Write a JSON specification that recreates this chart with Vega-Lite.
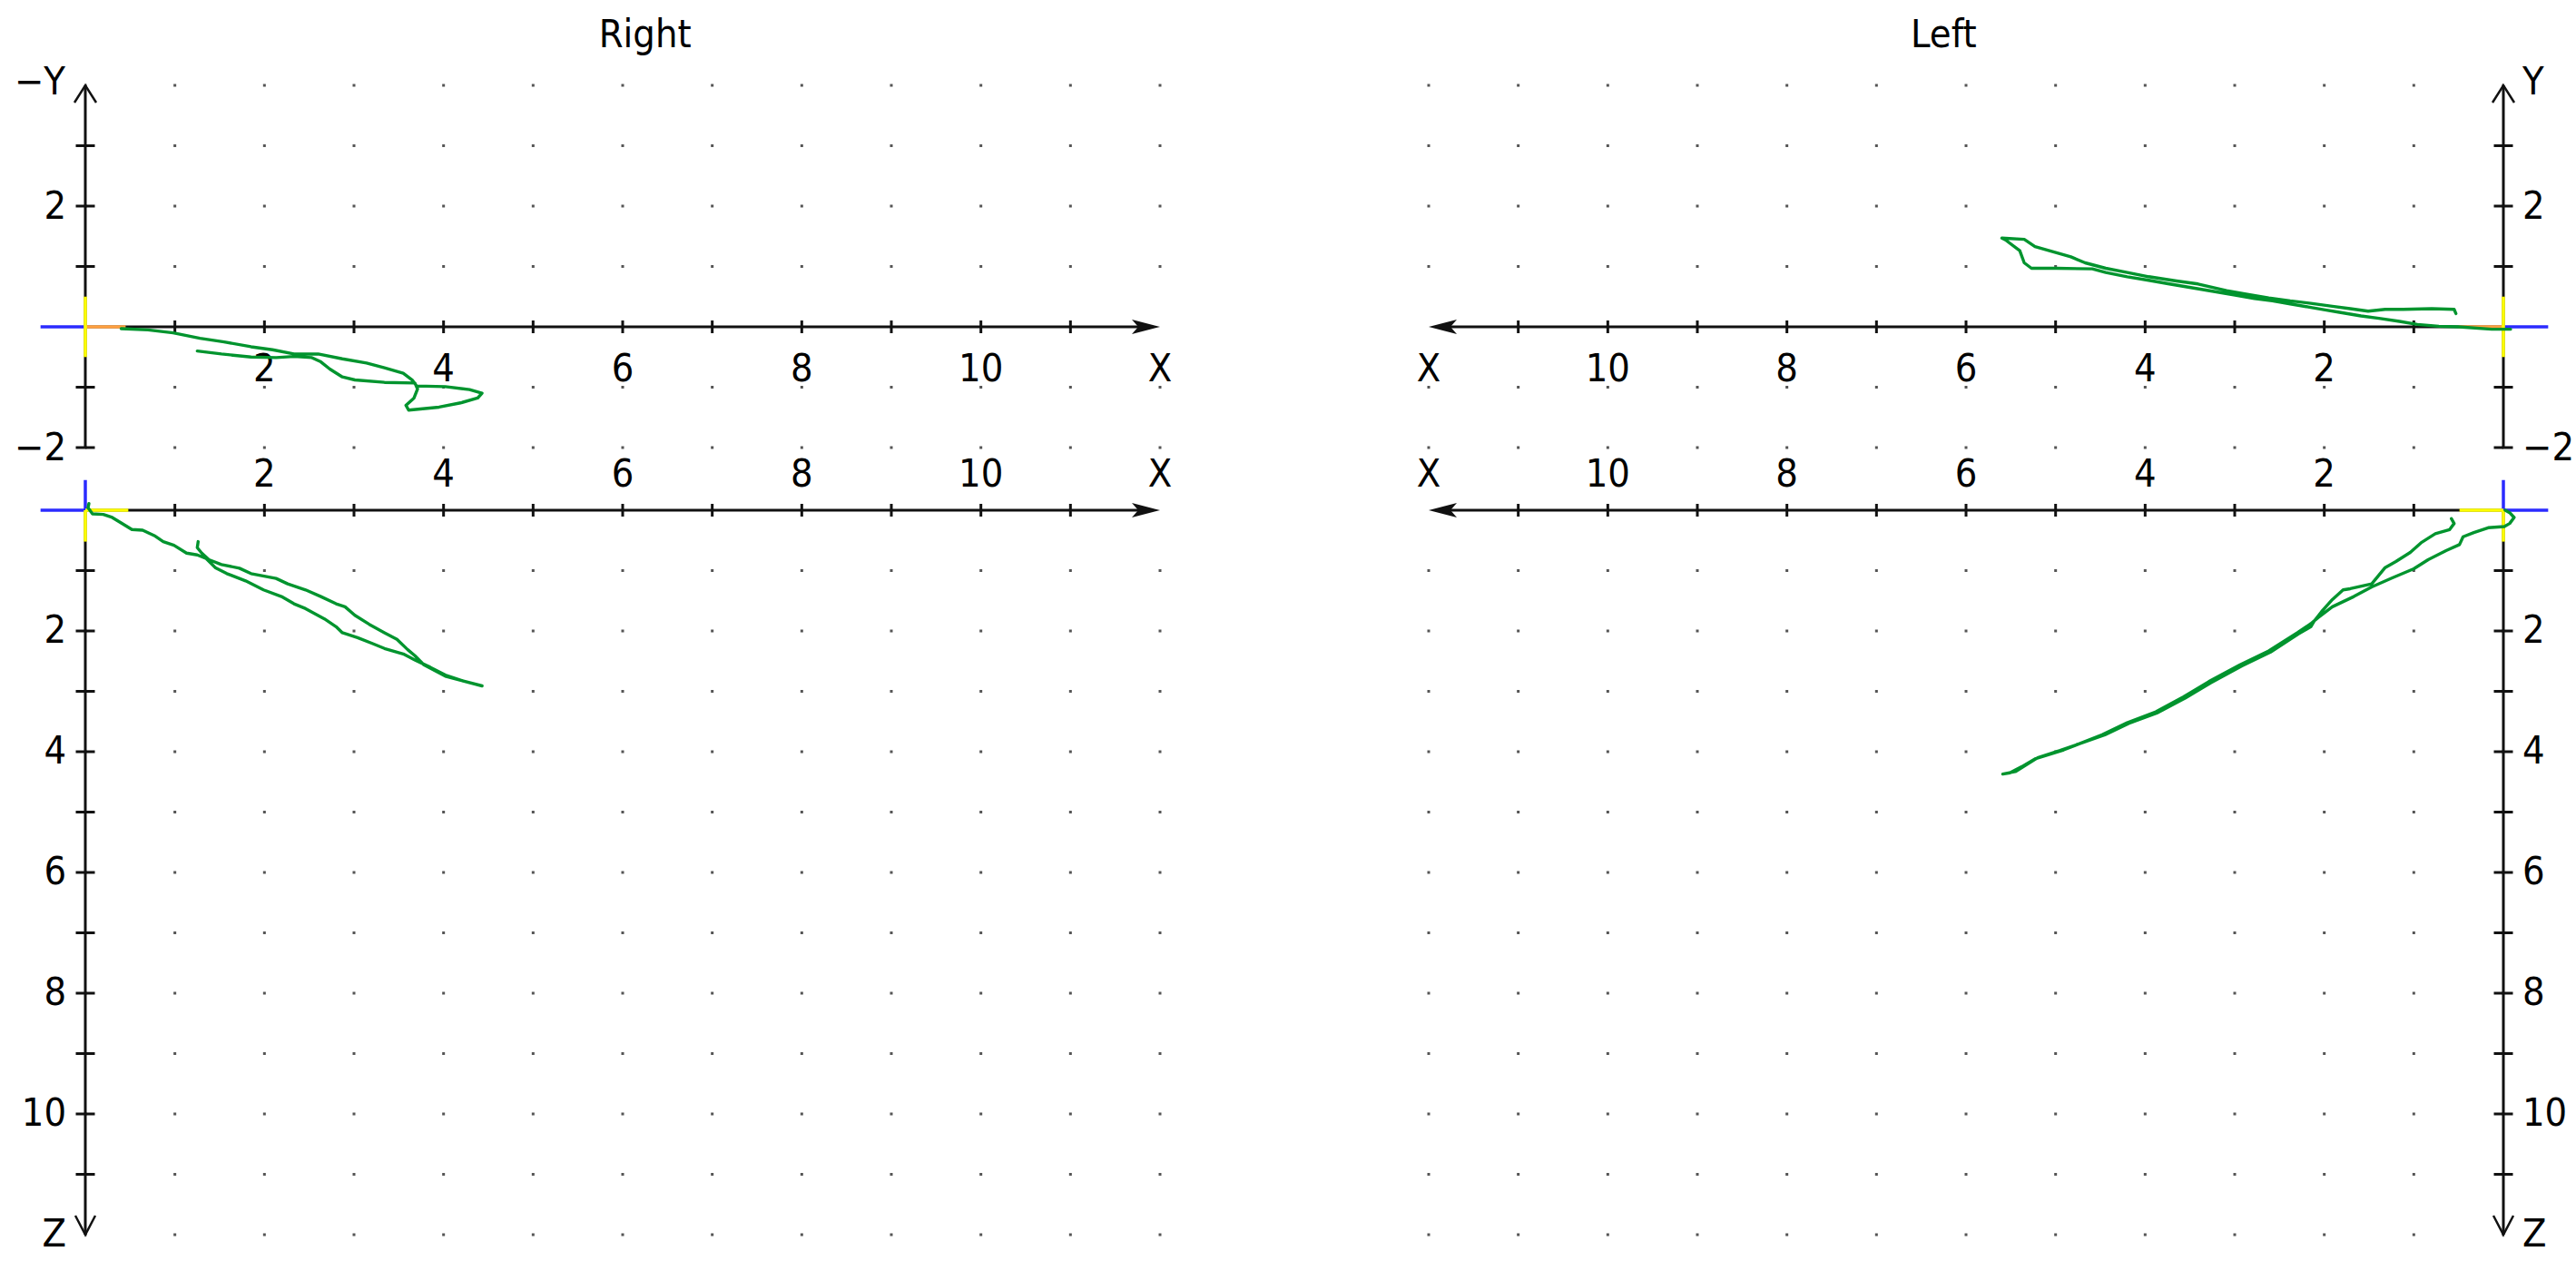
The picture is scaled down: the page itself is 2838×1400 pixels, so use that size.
{
  "$schema": "https://vega.github.io/schema/vega-lite/v6.json",
  "width": 2838,
  "height": 1400,
  "autosize": {"type": "none"},
  "padding": 0,
  "background": "white",
  "config": {
    "view": {"stroke": null},
    "axis": {"disable": true, "grid": false, "domain": false, "ticks": false, "labels": false, "title": null},
    "text": {"font": "'DejaVu Sans Condensed', 'DejaVu Sans', sans-serif", "fontSize": 43, "color": "#000"},
    "point": {"opacity": 1}
  },
  "datasets": {
    "t11": [{"v":1},{"v":2},{"v":3},{"v":4},{"v":5},{"v":6},{"v":7},{"v":8},{"v":9},{"v":10},{"v":11}],
    "yt": [{"v":-2},{"v":-1},{"v":1},{"v":2},{"v":3}],
    "ydots": [{"v":-2},{"v":-1},{"v":1},{"v":2},{"v":3},{"v":4}],
    "zdots": [{"v":1},{"v":2},{"v":3},{"v":4},{"v":5},{"v":6},{"v":7},{"v":8},{"v":9},{"v":10},{"v":11},{"v":12}],
    "xlab": [{"v":2,"t":"2"},{"v":4,"t":"4"},{"v":6,"t":"6"},{"v":8,"t":"8"},{"v":10,"t":"10"},{"v":12,"t":"X"}],
    "ylab": [{"v":2,"t":"2"},{"v":-2,"t":"−2"}],
    "zlab": [{"v":2,"t":"2"},{"v":4,"t":"4"},{"v":6,"t":"6"},{"v":8,"t":"8"},{"v":10,"t":"10"},{"v":12,"t":"Z"}],
    "one": [{}],
    "rt": [{"x":0.40,"y":-0.03},{"x":0.70,"y":-0.05},{"x":0.98,"y":-0.10},{"x":1.28,"y":-0.19},{"x":1.55,"y":-0.25},{"x":1.85,"y":-0.33},{"x":2.09,"y":-0.38},{"x":2.33,"y":-0.45},{"x":2.60,"y":-0.45},{"x":2.87,"y":-0.53},{"x":3.14,"y":-0.60},{"x":3.34,"y":-0.68},{"x":3.55,"y":-0.77},{"x":3.65,"y":-0.88},{"x":3.70,"y":-0.98},{"x":4.02,"y":-0.99},{"x":4.29,"y":-1.04},{"x":4.43,"y":-1.10},{"x":4.38,"y":-1.18},{"x":4.19,"y":-1.26},{"x":3.95,"y":-1.33},{"x":3.61,"y":-1.38},{"x":3.58,"y":-1.30},{"x":3.67,"y":-1.18},{"x":3.71,"y":-1.03},{"x":3.68,"y":-0.93},{"x":3.34,"y":-0.92},{"x":3.01,"y":-0.88},{"x":2.87,"y":-0.83},{"x":2.73,"y":-0.70},{"x":2.63,"y":-0.58},{"x":2.53,"y":-0.51},{"x":2.33,"y":-0.49},{"x":2.13,"y":-0.51},{"x":1.85,"y":-0.50},{"x":1.52,"y":-0.45},{"x":1.25,"y":-0.40}],
    "rb": [{"x":0.04,"z":-0.11},{"x":0.03,"z":-0.04},{"x":0.08,"z":0.06},{"x":0.20,"z":0.07},{"x":0.30,"z":0.12},{"x":0.40,"z":0.21},{"x":0.52,"z":0.32},{"x":0.64,"z":0.33},{"x":0.77,"z":0.42},{"x":0.87,"z":0.52},{"x":0.99,"z":0.58},{"x":1.13,"z":0.71},{"x":1.25,"z":0.74},{"x":1.35,"z":0.80},{"x":1.45,"z":0.95},{"x":1.58,"z":1.05},{"x":1.79,"z":1.17},{"x":1.99,"z":1.32},{"x":2.19,"z":1.43},{"x":2.33,"z":1.55},{"x":2.46,"z":1.63},{"x":2.67,"z":1.80},{"x":2.80,"z":1.93},{"x":2.87,"z":2.03},{"x":3.04,"z":2.11},{"x":3.21,"z":2.21},{"x":3.34,"z":2.29},{"x":3.55,"z":2.38},{"x":3.68,"z":2.48},{"x":3.85,"z":2.60},{"x":4.02,"z":2.73},{"x":4.22,"z":2.83},{"x":4.43,"z":2.91},{"x":4.02,"z":2.75},{"x":3.78,"z":2.56},{"x":3.68,"z":2.41},{"x":3.60,"z":2.31},{"x":3.48,"z":2.14},{"x":3.34,"z":2.03},{"x":3.17,"z":1.89},{"x":3.01,"z":1.74},{"x":2.90,"z":1.60},{"x":2.80,"z":1.55},{"x":2.63,"z":1.43},{"x":2.46,"z":1.32},{"x":2.26,"z":1.22},{"x":2.13,"z":1.13},{"x":1.85,"z":1.05},{"x":1.72,"z":0.96},{"x":1.52,"z":0.90},{"x":1.38,"z":0.82},{"x":1.30,"z":0.71},{"x":1.25,"z":0.62},{"x":1.26,"z":0.52}],
    "lt": [{"x":-0.08,"y":-0.04},{"x":0.13,"y":-0.04},{"x":0.50,"y":0.0},{"x":0.72,"y":0.01},{"x":0.96,"y":0.04},{"x":1.16,"y":0.09},{"x":1.39,"y":0.14},{"x":1.59,"y":0.18},{"x":1.83,"y":0.24},{"x":1.99,"y":0.28},{"x":2.18,"y":0.33},{"x":2.38,"y":0.38},{"x":2.58,"y":0.43},{"x":2.78,"y":0.47},{"x":3.01,"y":0.53},{"x":3.25,"y":0.59},{"x":3.49,"y":0.65},{"x":3.73,"y":0.71},{"x":3.96,"y":0.77},{"x":4.20,"y":0.83},{"x":4.44,"y":0.90},{"x":4.59,"y":0.96},{"x":4.99,"y":0.97},{"x":5.27,"y":0.97},{"x":5.35,"y":1.06},{"x":5.40,"y":1.26},{"x":5.56,"y":1.44},{"x":5.60,"y":1.47},{"x":5.35,"y":1.45},{"x":5.23,"y":1.33},{"x":5.07,"y":1.26},{"x":4.83,"y":1.16},{"x":4.67,"y":1.06},{"x":4.44,"y":0.97},{"x":4.20,"y":0.90},{"x":3.96,"y":0.83},{"x":3.65,"y":0.76},{"x":3.41,"y":0.71},{"x":3.09,"y":0.60},{"x":2.86,"y":0.54},{"x":2.62,"y":0.48},{"x":2.38,"y":0.43},{"x":2.15,"y":0.39},{"x":1.91,"y":0.34},{"x":1.71,"y":0.30},{"x":1.51,"y":0.26},{"x":1.32,"y":0.29},{"x":1.12,"y":0.29},{"x":0.80,"y":0.30},{"x":0.55,"y":0.29},{"x":0.53,"y":0.22}],
    "lb": [{"x":-0.02,"z":0.0},{"x":-0.07,"z":0.04},{"x":-0.12,"z":0.12},{"x":-0.07,"z":0.22},{"x":-0.01,"z":0.27},{"x":0.17,"z":0.29},{"x":0.33,"z":0.37},{"x":0.45,"z":0.44},{"x":0.49,"z":0.57},{"x":0.64,"z":0.67},{"x":0.84,"z":0.82},{"x":1.00,"z":0.97},{"x":1.24,"z":1.12},{"x":1.47,"z":1.27},{"x":1.67,"z":1.43},{"x":1.91,"z":1.60},{"x":2.07,"z":1.78},{"x":2.15,"z":1.88},{"x":2.30,"z":2.03},{"x":2.62,"z":2.33},{"x":2.94,"z":2.56},{"x":3.29,"z":2.84},{"x":3.57,"z":3.09},{"x":3.88,"z":3.34},{"x":4.20,"z":3.52},{"x":4.48,"z":3.72},{"x":4.91,"z":3.97},{"x":5.23,"z":4.12},{"x":5.38,"z":4.25},{"x":5.51,"z":4.35},{"x":5.59,"z":4.37},{"x":5.45,"z":4.33},{"x":5.20,"z":4.10},{"x":4.95,"z":3.98},{"x":4.45,"z":3.72},{"x":4.18,"z":3.53},{"x":3.87,"z":3.36},{"x":3.55,"z":3.11},{"x":3.27,"z":2.86},{"x":2.92,"z":2.58},{"x":2.60,"z":2.35},{"x":2.29,"z":2.05},{"x":2.15,"z":1.93},{"x":2.11,"z":1.83},{"x":2.03,"z":1.68},{"x":1.91,"z":1.48},{"x":1.79,"z":1.32},{"x":1.71,"z":1.30},{"x":1.47,"z":1.22},{"x":1.32,"z":0.95},{"x":1.20,"z":0.85},{"x":1.04,"z":0.70},{"x":0.92,"z":0.54},{"x":0.76,"z":0.39},{"x":0.60,"z":0.32},{"x":0.55,"z":0.22},{"x":0.58,"z":0.14}]
  },
  "resolve": {"scale": {"x": "independent", "y": "independent"}},
  "layer": [
    {
      "layer": [
        {"data": {"name": "ydots"}, "mark": {"type": "rule", "color": "#555", "strokeWidth": 3, "strokeDash": [3, 95.667], "strokeDashOffset": 1.5},
         "encoding": {"y": {"field": "v", "type": "quantitative", "axis": null, "scale": {"domain": [-2, 4], "range": [493, 94], "nice": false, "zero": false}}, "x": {"datum": 0, "type": "quantitative", "axis": null, "scale": {"domain": [0, 12], "range": [94, 1278], "nice": false, "zero": false}}, "x2": {"datum": 12.1}}},
        {"data": {"name": "one"}, "mark": {"type": "rule", "color": "#111", "strokeWidth": 3},
         "encoding": {"x": {"datum": 0, "type": "quantitative", "axis": null, "scale": {"domain": [0, 12], "range": [94, 1278], "nice": false, "zero": false}}, "x2": {"datum": 11.8}, "y": {"datum": 0, "type": "quantitative", "axis": null, "scale": {"domain": [-2, 4], "range": [493, 94], "nice": false, "zero": false}}}},
        {"data": {"name": "one"}, "mark": {"type": "rule", "color": "#111", "strokeWidth": 3},
         "encoding": {"x": {"datum": 0, "type": "quantitative", "axis": null, "scale": {"domain": [0, 12], "range": [94, 1278], "nice": false, "zero": false}}, "y": {"datum": -2, "type": "quantitative", "axis": null, "scale": {"domain": [-2, 4], "range": [493, 94], "nice": false, "zero": false}}, "y2": {"datum": 4}}},
        {"data": {"name": "one"}, "mark": {"type": "rule", "color": "#2B2BFF", "strokeWidth": 3.5},
         "encoding": {"x": {"datum": -0.5, "type": "quantitative", "axis": null, "scale": {"domain": [0, 12], "range": [94, 1278], "nice": false, "zero": false}}, "x2": {"datum": 0}, "y": {"datum": 0, "type": "quantitative", "axis": null, "scale": {"domain": [-2, 4], "range": [493, 94], "nice": false, "zero": false}}}},
        {"data": {"name": "one"}, "mark": {"type": "rule", "color": "#FFA040", "strokeWidth": 3.5},
         "encoding": {"x": {"datum": 0, "type": "quantitative", "axis": null, "scale": {"domain": [0, 12], "range": [94, 1278], "nice": false, "zero": false}}, "x2": {"datum": 0.45}, "y": {"datum": 0, "type": "quantitative", "axis": null, "scale": {"domain": [-2, 4], "range": [493, 94], "nice": false, "zero": false}}}},
        {"data": {"name": "one"}, "mark": {"type": "rule", "color": "#FFFF00", "strokeWidth": 3.5},
         "encoding": {"x": {"datum": 0, "type": "quantitative", "axis": null, "scale": {"domain": [0, 12], "range": [94, 1278], "nice": false, "zero": false}}, "y": {"datum": -0.5, "type": "quantitative", "axis": null, "scale": {"domain": [-2, 4], "range": [493, 94], "nice": false, "zero": false}}, "y2": {"datum": 0.5}}},
        {"data": {"name": "t11"}, "mark": {"type": "point", "shape": "M0,-1L0,1", "size": 196, "filled": false, "color": "#111", "strokeWidth": 3, "opacity": 1},
         "encoding": {"x": {"field": "v", "type": "quantitative", "axis": null, "scale": {"domain": [0, 12], "range": [94, 1278], "nice": false, "zero": false}}, "y": {"datum": 0, "type": "quantitative", "axis": null, "scale": {"domain": [-2, 4], "range": [493, 94], "nice": false, "zero": false}}}},
        {"data": {"name": "yt"}, "mark": {"type": "point", "shape": "M-1,0L1,0", "size": 441, "filled": false, "color": "#111", "strokeWidth": 3, "opacity": 1},
         "encoding": {"y": {"field": "v", "type": "quantitative", "axis": null, "scale": {"domain": [-2, 4], "range": [493, 94], "nice": false, "zero": false}}, "x": {"datum": 0, "type": "quantitative", "axis": null, "scale": {"domain": [0, 12], "range": [94, 1278], "nice": false, "zero": false}}}},
        {"data": {"name": "one"}, "mark": {"type": "point", "shape": "M0,0L-3.1,-0.8L-2.4,0L-3.1,0.8Z", "size": 400, "filled": true, "color": "#111", "opacity": 1},
         "encoding": {"x": {"datum": 12, "type": "quantitative", "axis": null, "scale": {"domain": [0, 12], "range": [94, 1278], "nice": false, "zero": false}}, "y": {"datum": 0, "type": "quantitative", "axis": null, "scale": {"domain": [-2, 4], "range": [493, 94], "nice": false, "zero": false}}}},
        {"data": {"name": "one"}, "mark": {"type": "point", "shape": "M-1.2,1.9L0,0L1.2,1.9", "size": 400, "filled": false, "color": "#111", "strokeWidth": 2.5, "opacity": 1},
         "encoding": {"x": {"datum": 0, "type": "quantitative", "axis": null, "scale": {"domain": [0, 12], "range": [94, 1278], "nice": false, "zero": false}}, "y": {"datum": 4, "type": "quantitative", "axis": null, "scale": {"domain": [-2, 4], "range": [493, 94], "nice": false, "zero": false}}}},
        {"data": {"name": "xlab"}, "mark": {"type": "text", "align": "center", "baseline": "alphabetic", "dy": 60},
         "encoding": {"x": {"field": "v", "type": "quantitative", "axis": null, "scale": {"domain": [0, 12], "range": [94, 1278], "nice": false, "zero": false}}, "y": {"datum": 0, "type": "quantitative", "axis": null, "scale": {"domain": [-2, 4], "range": [493, 94], "nice": false, "zero": false}}, "text": {"field": "t"}}},
        {"data": {"name": "ylab"}, "mark": {"type": "text", "align": "right", "baseline": "alphabetic", "dx": -21, "dy": 14},
         "encoding": {"y": {"field": "v", "type": "quantitative", "axis": null, "scale": {"domain": [-2, 4], "range": [493, 94], "nice": false, "zero": false}}, "x": {"datum": 0, "type": "quantitative", "axis": null, "scale": {"domain": [0, 12], "range": [94, 1278], "nice": false, "zero": false}}, "text": {"field": "t"}}},
        {"data": {"name": "one"}, "mark": {"type": "text", "align": "right", "baseline": "alphabetic", "dx": -22, "dy": 10, "text": "−Y"},
         "encoding": {"x": {"datum": 0, "type": "quantitative", "axis": null, "scale": {"domain": [0, 12], "range": [94, 1278], "nice": false, "zero": false}}, "y": {"datum": 4, "type": "quantitative", "axis": null, "scale": {"domain": [-2, 4], "range": [493, 94], "nice": false, "zero": false}}}},
        {"data": {"name": "one"}, "mark": {"type": "text", "align": "center", "baseline": "alphabetic", "text": "Right"},
         "encoding": {"x": {"datum": 6.25, "type": "quantitative", "axis": null, "scale": {"domain": [0, 12], "range": [94, 1278], "nice": false, "zero": false}}, "y": {"datum": 4.63, "type": "quantitative", "axis": null, "scale": {"domain": [-2, 4], "range": [493, 94], "nice": false, "zero": false}}}},
        {"data": {"name": "rt"}, "mark": {"type": "line", "color": "#00942E", "strokeWidth": 3.4, "strokeJoin": "round", "strokeCap": "round"},
         "encoding": {"x": {"field": "x", "type": "quantitative", "axis": null, "scale": {"domain": [0, 12], "range": [94, 1278], "nice": false, "zero": false}}, "y": {"field": "y", "type": "quantitative", "axis": null, "scale": {"domain": [-2, 4], "range": [493, 94], "nice": false, "zero": false}}, "order": {"value": null}}}
      ]
    },
    {
      "layer": [
        {"data": {"name": "zdots"}, "mark": {"type": "rule", "color": "#555", "strokeWidth": 3, "strokeDash": [3, 95.667], "strokeDashOffset": 1.5},
         "encoding": {"y": {"field": "v", "type": "quantitative", "axis": null, "scale": {"domain": [0, 12], "range": [562, 1360], "nice": false, "zero": false}}, "x": {"datum": 0, "type": "quantitative", "axis": null, "scale": {"domain": [0, 12], "range": [94, 1278], "nice": false, "zero": false}}, "x2": {"datum": 12.1}}},
        {"data": {"name": "one"}, "mark": {"type": "rule", "color": "#111", "strokeWidth": 3},
         "encoding": {"x": {"datum": 0, "type": "quantitative", "axis": null, "scale": {"domain": [0, 12], "range": [94, 1278], "nice": false, "zero": false}}, "x2": {"datum": 11.8}, "y": {"datum": 0, "type": "quantitative", "axis": null, "scale": {"domain": [0, 12], "range": [562, 1360], "nice": false, "zero": false}}}},
        {"data": {"name": "one"}, "mark": {"type": "rule", "color": "#111", "strokeWidth": 3},
         "encoding": {"x": {"datum": 0, "type": "quantitative", "axis": null, "scale": {"domain": [0, 12], "range": [94, 1278], "nice": false, "zero": false}}, "y": {"datum": 0, "type": "quantitative", "axis": null, "scale": {"domain": [0, 12], "range": [562, 1360], "nice": false, "zero": false}}, "y2": {"datum": 12}}},
        {"data": {"name": "one"}, "mark": {"type": "rule", "color": "#2B2BFF", "strokeWidth": 3.5},
         "encoding": {"x": {"datum": -0.5, "type": "quantitative", "axis": null, "scale": {"domain": [0, 12], "range": [94, 1278], "nice": false, "zero": false}}, "x2": {"datum": 0}, "y": {"datum": 0, "type": "quantitative", "axis": null, "scale": {"domain": [0, 12], "range": [562, 1360], "nice": false, "zero": false}}}},
        {"data": {"name": "one"}, "mark": {"type": "rule", "color": "#2B2BFF", "strokeWidth": 3.5},
         "encoding": {"x": {"datum": 0, "type": "quantitative", "axis": null, "scale": {"domain": [0, 12], "range": [94, 1278], "nice": false, "zero": false}}, "y": {"datum": -0.5, "type": "quantitative", "axis": null, "scale": {"domain": [0, 12], "range": [562, 1360], "nice": false, "zero": false}}, "y2": {"datum": 0}}},
        {"data": {"name": "one"}, "mark": {"type": "rule", "color": "#FFFF00", "strokeWidth": 3.5},
         "encoding": {"x": {"datum": 0, "type": "quantitative", "axis": null, "scale": {"domain": [0, 12], "range": [94, 1278], "nice": false, "zero": false}}, "x2": {"datum": 0.48}, "y": {"datum": 0, "type": "quantitative", "axis": null, "scale": {"domain": [0, 12], "range": [562, 1360], "nice": false, "zero": false}}}},
        {"data": {"name": "one"}, "mark": {"type": "rule", "color": "#FFFF00", "strokeWidth": 3.5},
         "encoding": {"x": {"datum": 0, "type": "quantitative", "axis": null, "scale": {"domain": [0, 12], "range": [94, 1278], "nice": false, "zero": false}}, "y": {"datum": 0, "type": "quantitative", "axis": null, "scale": {"domain": [0, 12], "range": [562, 1360], "nice": false, "zero": false}}, "y2": {"datum": 0.52}}},
        {"data": {"name": "t11"}, "mark": {"type": "point", "shape": "M0,-1L0,1", "size": 196, "filled": false, "color": "#111", "strokeWidth": 3, "opacity": 1},
         "encoding": {"x": {"field": "v", "type": "quantitative", "axis": null, "scale": {"domain": [0, 12], "range": [94, 1278], "nice": false, "zero": false}}, "y": {"datum": 0, "type": "quantitative", "axis": null, "scale": {"domain": [0, 12], "range": [562, 1360], "nice": false, "zero": false}}}},
        {"data": {"name": "t11"}, "mark": {"type": "point", "shape": "M-1,0L1,0", "size": 441, "filled": false, "color": "#111", "strokeWidth": 3, "opacity": 1},
         "encoding": {"y": {"field": "v", "type": "quantitative", "axis": null, "scale": {"domain": [0, 12], "range": [562, 1360], "nice": false, "zero": false}}, "x": {"datum": 0, "type": "quantitative", "axis": null, "scale": {"domain": [0, 12], "range": [94, 1278], "nice": false, "zero": false}}}},
        {"data": {"name": "one"}, "mark": {"type": "point", "shape": "M0,0L-3.1,-0.8L-2.4,0L-3.1,0.8Z", "size": 400, "filled": true, "color": "#111", "opacity": 1},
         "encoding": {"x": {"datum": 12, "type": "quantitative", "axis": null, "scale": {"domain": [0, 12], "range": [94, 1278], "nice": false, "zero": false}}, "y": {"datum": 0, "type": "quantitative", "axis": null, "scale": {"domain": [0, 12], "range": [562, 1360], "nice": false, "zero": false}}}},
        {"data": {"name": "one"}, "mark": {"type": "point", "shape": "M-1.1,-2.1L0,0L1.1,-2.1", "size": 400, "filled": false, "color": "#111", "strokeWidth": 2.5, "opacity": 1},
         "encoding": {"x": {"datum": 0, "type": "quantitative", "axis": null, "scale": {"domain": [0, 12], "range": [94, 1278], "nice": false, "zero": false}}, "y": {"datum": 12, "type": "quantitative", "axis": null, "scale": {"domain": [0, 12], "range": [562, 1360], "nice": false, "zero": false}}}},
        {"data": {"name": "xlab"}, "mark": {"type": "text", "align": "center", "baseline": "alphabetic", "dy": -26},
         "encoding": {"x": {"field": "v", "type": "quantitative", "axis": null, "scale": {"domain": [0, 12], "range": [94, 1278], "nice": false, "zero": false}}, "y": {"datum": 0, "type": "quantitative", "axis": null, "scale": {"domain": [0, 12], "range": [562, 1360], "nice": false, "zero": false}}, "text": {"field": "t"}}},
        {"data": {"name": "zlab"}, "mark": {"type": "text", "align": "right", "baseline": "alphabetic", "dx": -21, "dy": 13},
         "encoding": {"y": {"field": "v", "type": "quantitative", "axis": null, "scale": {"domain": [0, 12], "range": [562, 1360], "nice": false, "zero": false}}, "x": {"datum": 0, "type": "quantitative", "axis": null, "scale": {"domain": [0, 12], "range": [94, 1278], "nice": false, "zero": false}}, "text": {"field": "t"}}},
        {"data": {"name": "rb"}, "mark": {"type": "line", "color": "#00942E", "strokeWidth": 3.4, "strokeJoin": "round", "strokeCap": "round"},
         "encoding": {"x": {"field": "x", "type": "quantitative", "axis": null, "scale": {"domain": [0, 12], "range": [94, 1278], "nice": false, "zero": false}}, "y": {"field": "z", "type": "quantitative", "axis": null, "scale": {"domain": [0, 12], "range": [562, 1360], "nice": false, "zero": false}}, "order": {"value": null}}}
      ]
    },
    {
      "layer": [
        {"data": {"name": "ydots"}, "mark": {"type": "rule", "color": "#555", "strokeWidth": 3, "strokeDash": [3, 95.667], "strokeDashOffset": 1.5},
         "encoding": {"y": {"field": "v", "type": "quantitative", "axis": null, "scale": {"domain": [-2, 4], "range": [493, 94], "nice": false, "zero": false}}, "x": {"datum": 0, "type": "quantitative", "axis": null, "scale": {"domain": [0, 12], "range": [2758, 1574], "nice": false, "zero": false}}, "x2": {"datum": 12.1}}},
        {"data": {"name": "one"}, "mark": {"type": "rule", "color": "#111", "strokeWidth": 3},
         "encoding": {"x": {"datum": 0, "type": "quantitative", "axis": null, "scale": {"domain": [0, 12], "range": [2758, 1574], "nice": false, "zero": false}}, "x2": {"datum": 11.8}, "y": {"datum": 0, "type": "quantitative", "axis": null, "scale": {"domain": [-2, 4], "range": [493, 94], "nice": false, "zero": false}}}},
        {"data": {"name": "one"}, "mark": {"type": "rule", "color": "#111", "strokeWidth": 3},
         "encoding": {"x": {"datum": 0, "type": "quantitative", "axis": null, "scale": {"domain": [0, 12], "range": [2758, 1574], "nice": false, "zero": false}}, "y": {"datum": -2, "type": "quantitative", "axis": null, "scale": {"domain": [-2, 4], "range": [493, 94], "nice": false, "zero": false}}, "y2": {"datum": 4}}},
        {"data": {"name": "one"}, "mark": {"type": "rule", "color": "#2B2BFF", "strokeWidth": 3.5},
         "encoding": {"x": {"datum": -0.5, "type": "quantitative", "axis": null, "scale": {"domain": [0, 12], "range": [2758, 1574], "nice": false, "zero": false}}, "x2": {"datum": 0}, "y": {"datum": 0, "type": "quantitative", "axis": null, "scale": {"domain": [-2, 4], "range": [493, 94], "nice": false, "zero": false}}}},
        {"data": {"name": "one"}, "mark": {"type": "rule", "color": "#FFA040", "strokeWidth": 3.5},
         "encoding": {"x": {"datum": 0, "type": "quantitative", "axis": null, "scale": {"domain": [0, 12], "range": [2758, 1574], "nice": false, "zero": false}}, "x2": {"datum": 0.5}, "y": {"datum": 0, "type": "quantitative", "axis": null, "scale": {"domain": [-2, 4], "range": [493, 94], "nice": false, "zero": false}}}},
        {"data": {"name": "one"}, "mark": {"type": "rule", "color": "#FFFF00", "strokeWidth": 3.5},
         "encoding": {"x": {"datum": 0, "type": "quantitative", "axis": null, "scale": {"domain": [0, 12], "range": [2758, 1574], "nice": false, "zero": false}}, "y": {"datum": -0.5, "type": "quantitative", "axis": null, "scale": {"domain": [-2, 4], "range": [493, 94], "nice": false, "zero": false}}, "y2": {"datum": 0.5}}},
        {"data": {"name": "t11"}, "mark": {"type": "point", "shape": "M0,-1L0,1", "size": 196, "filled": false, "color": "#111", "strokeWidth": 3, "opacity": 1},
         "encoding": {"x": {"field": "v", "type": "quantitative", "axis": null, "scale": {"domain": [0, 12], "range": [2758, 1574], "nice": false, "zero": false}}, "y": {"datum": 0, "type": "quantitative", "axis": null, "scale": {"domain": [-2, 4], "range": [493, 94], "nice": false, "zero": false}}}},
        {"data": {"name": "yt"}, "mark": {"type": "point", "shape": "M-1,0L1,0", "size": 441, "filled": false, "color": "#111", "strokeWidth": 3, "opacity": 1},
         "encoding": {"y": {"field": "v", "type": "quantitative", "axis": null, "scale": {"domain": [-2, 4], "range": [493, 94], "nice": false, "zero": false}}, "x": {"datum": 0, "type": "quantitative", "axis": null, "scale": {"domain": [0, 12], "range": [2758, 1574], "nice": false, "zero": false}}}},
        {"data": {"name": "one"}, "mark": {"type": "point", "shape": "M0,0L3.1,-0.8L2.4,0L3.1,0.8Z", "size": 400, "filled": true, "color": "#111", "opacity": 1},
         "encoding": {"x": {"datum": 12, "type": "quantitative", "axis": null, "scale": {"domain": [0, 12], "range": [2758, 1574], "nice": false, "zero": false}}, "y": {"datum": 0, "type": "quantitative", "axis": null, "scale": {"domain": [-2, 4], "range": [493, 94], "nice": false, "zero": false}}}},
        {"data": {"name": "one"}, "mark": {"type": "point", "shape": "M-1.2,1.9L0,0L1.2,1.9", "size": 400, "filled": false, "color": "#111", "strokeWidth": 2.5, "opacity": 1},
         "encoding": {"x": {"datum": 0, "type": "quantitative", "axis": null, "scale": {"domain": [0, 12], "range": [2758, 1574], "nice": false, "zero": false}}, "y": {"datum": 4, "type": "quantitative", "axis": null, "scale": {"domain": [-2, 4], "range": [493, 94], "nice": false, "zero": false}}}},
        {"data": {"name": "xlab"}, "mark": {"type": "text", "align": "center", "baseline": "alphabetic", "dy": 60},
         "encoding": {"x": {"field": "v", "type": "quantitative", "axis": null, "scale": {"domain": [0, 12], "range": [2758, 1574], "nice": false, "zero": false}}, "y": {"datum": 0, "type": "quantitative", "axis": null, "scale": {"domain": [-2, 4], "range": [493, 94], "nice": false, "zero": false}}, "text": {"field": "t"}}},
        {"data": {"name": "ylab"}, "mark": {"type": "text", "align": "left", "baseline": "alphabetic", "dx": 21, "dy": 14},
         "encoding": {"y": {"field": "v", "type": "quantitative", "axis": null, "scale": {"domain": [-2, 4], "range": [493, 94], "nice": false, "zero": false}}, "x": {"datum": 0, "type": "quantitative", "axis": null, "scale": {"domain": [0, 12], "range": [2758, 1574], "nice": false, "zero": false}}, "text": {"field": "t"}}},
        {"data": {"name": "one"}, "mark": {"type": "text", "align": "left", "baseline": "alphabetic", "dx": 21, "dy": 10, "text": "Y"},
         "encoding": {"x": {"datum": 0, "type": "quantitative", "axis": null, "scale": {"domain": [0, 12], "range": [2758, 1574], "nice": false, "zero": false}}, "y": {"datum": 4, "type": "quantitative", "axis": null, "scale": {"domain": [-2, 4], "range": [493, 94], "nice": false, "zero": false}}}},
        {"data": {"name": "one"}, "mark": {"type": "text", "align": "center", "baseline": "alphabetic", "text": "Left"},
         "encoding": {"x": {"datum": 6.25, "type": "quantitative", "axis": null, "scale": {"domain": [0, 12], "range": [2758, 1574], "nice": false, "zero": false}}, "y": {"datum": 4.63, "type": "quantitative", "axis": null, "scale": {"domain": [-2, 4], "range": [493, 94], "nice": false, "zero": false}}}},
        {"data": {"name": "lt"}, "mark": {"type": "line", "color": "#00942E", "strokeWidth": 3.4, "strokeJoin": "round", "strokeCap": "round"},
         "encoding": {"x": {"field": "x", "type": "quantitative", "axis": null, "scale": {"domain": [0, 12], "range": [2758, 1574], "nice": false, "zero": false}}, "y": {"field": "y", "type": "quantitative", "axis": null, "scale": {"domain": [-2, 4], "range": [493, 94], "nice": false, "zero": false}}, "order": {"value": null}}}
      ]
    },
    {
      "layer": [
        {"data": {"name": "zdots"}, "mark": {"type": "rule", "color": "#555", "strokeWidth": 3, "strokeDash": [3, 95.667], "strokeDashOffset": 1.5},
         "encoding": {"y": {"field": "v", "type": "quantitative", "axis": null, "scale": {"domain": [0, 12], "range": [562, 1360], "nice": false, "zero": false}}, "x": {"datum": 0, "type": "quantitative", "axis": null, "scale": {"domain": [0, 12], "range": [2758, 1574], "nice": false, "zero": false}}, "x2": {"datum": 12.1}}},
        {"data": {"name": "one"}, "mark": {"type": "rule", "color": "#111", "strokeWidth": 3},
         "encoding": {"x": {"datum": 0, "type": "quantitative", "axis": null, "scale": {"domain": [0, 12], "range": [2758, 1574], "nice": false, "zero": false}}, "x2": {"datum": 11.8}, "y": {"datum": 0, "type": "quantitative", "axis": null, "scale": {"domain": [0, 12], "range": [562, 1360], "nice": false, "zero": false}}}},
        {"data": {"name": "one"}, "mark": {"type": "rule", "color": "#111", "strokeWidth": 3},
         "encoding": {"x": {"datum": 0, "type": "quantitative", "axis": null, "scale": {"domain": [0, 12], "range": [2758, 1574], "nice": false, "zero": false}}, "y": {"datum": 0, "type": "quantitative", "axis": null, "scale": {"domain": [0, 12], "range": [562, 1360], "nice": false, "zero": false}}, "y2": {"datum": 12}}},
        {"data": {"name": "one"}, "mark": {"type": "rule", "color": "#2B2BFF", "strokeWidth": 3.5},
         "encoding": {"x": {"datum": -0.5, "type": "quantitative", "axis": null, "scale": {"domain": [0, 12], "range": [2758, 1574], "nice": false, "zero": false}}, "x2": {"datum": 0}, "y": {"datum": 0, "type": "quantitative", "axis": null, "scale": {"domain": [0, 12], "range": [562, 1360], "nice": false, "zero": false}}}},
        {"data": {"name": "one"}, "mark": {"type": "rule", "color": "#2B2BFF", "strokeWidth": 3.5},
         "encoding": {"x": {"datum": 0, "type": "quantitative", "axis": null, "scale": {"domain": [0, 12], "range": [2758, 1574], "nice": false, "zero": false}}, "y": {"datum": -0.5, "type": "quantitative", "axis": null, "scale": {"domain": [0, 12], "range": [562, 1360], "nice": false, "zero": false}}, "y2": {"datum": 0}}},
        {"data": {"name": "one"}, "mark": {"type": "rule", "color": "#FFFF00", "strokeWidth": 3.5},
         "encoding": {"x": {"datum": 0, "type": "quantitative", "axis": null, "scale": {"domain": [0, 12], "range": [2758, 1574], "nice": false, "zero": false}}, "x2": {"datum": 0.49}, "y": {"datum": 0, "type": "quantitative", "axis": null, "scale": {"domain": [0, 12], "range": [562, 1360], "nice": false, "zero": false}}}},
        {"data": {"name": "one"}, "mark": {"type": "rule", "color": "#FFFF00", "strokeWidth": 3.5},
         "encoding": {"x": {"datum": 0, "type": "quantitative", "axis": null, "scale": {"domain": [0, 12], "range": [2758, 1574], "nice": false, "zero": false}}, "y": {"datum": 0, "type": "quantitative", "axis": null, "scale": {"domain": [0, 12], "range": [562, 1360], "nice": false, "zero": false}}, "y2": {"datum": 0.52}}},
        {"data": {"name": "t11"}, "mark": {"type": "point", "shape": "M0,-1L0,1", "size": 196, "filled": false, "color": "#111", "strokeWidth": 3, "opacity": 1},
         "encoding": {"x": {"field": "v", "type": "quantitative", "axis": null, "scale": {"domain": [0, 12], "range": [2758, 1574], "nice": false, "zero": false}}, "y": {"datum": 0, "type": "quantitative", "axis": null, "scale": {"domain": [0, 12], "range": [562, 1360], "nice": false, "zero": false}}}},
        {"data": {"name": "t11"}, "mark": {"type": "point", "shape": "M-1,0L1,0", "size": 441, "filled": false, "color": "#111", "strokeWidth": 3, "opacity": 1},
         "encoding": {"y": {"field": "v", "type": "quantitative", "axis": null, "scale": {"domain": [0, 12], "range": [562, 1360], "nice": false, "zero": false}}, "x": {"datum": 0, "type": "quantitative", "axis": null, "scale": {"domain": [0, 12], "range": [2758, 1574], "nice": false, "zero": false}}}},
        {"data": {"name": "one"}, "mark": {"type": "point", "shape": "M0,0L3.1,-0.8L2.4,0L3.1,0.8Z", "size": 400, "filled": true, "color": "#111", "opacity": 1},
         "encoding": {"x": {"datum": 12, "type": "quantitative", "axis": null, "scale": {"domain": [0, 12], "range": [2758, 1574], "nice": false, "zero": false}}, "y": {"datum": 0, "type": "quantitative", "axis": null, "scale": {"domain": [0, 12], "range": [562, 1360], "nice": false, "zero": false}}}},
        {"data": {"name": "one"}, "mark": {"type": "point", "shape": "M-1.1,-2.1L0,0L1.1,-2.1", "size": 400, "filled": false, "color": "#111", "strokeWidth": 2.5, "opacity": 1},
         "encoding": {"x": {"datum": 0, "type": "quantitative", "axis": null, "scale": {"domain": [0, 12], "range": [2758, 1574], "nice": false, "zero": false}}, "y": {"datum": 12, "type": "quantitative", "axis": null, "scale": {"domain": [0, 12], "range": [562, 1360], "nice": false, "zero": false}}}},
        {"data": {"name": "xlab"}, "mark": {"type": "text", "align": "center", "baseline": "alphabetic", "dy": -26},
         "encoding": {"x": {"field": "v", "type": "quantitative", "axis": null, "scale": {"domain": [0, 12], "range": [2758, 1574], "nice": false, "zero": false}}, "y": {"datum": 0, "type": "quantitative", "axis": null, "scale": {"domain": [0, 12], "range": [562, 1360], "nice": false, "zero": false}}, "text": {"field": "t"}}},
        {"data": {"name": "zlab"}, "mark": {"type": "text", "align": "left", "baseline": "alphabetic", "dx": 21, "dy": 13},
         "encoding": {"y": {"field": "v", "type": "quantitative", "axis": null, "scale": {"domain": [0, 12], "range": [562, 1360], "nice": false, "zero": false}}, "x": {"datum": 0, "type": "quantitative", "axis": null, "scale": {"domain": [0, 12], "range": [2758, 1574], "nice": false, "zero": false}}, "text": {"field": "t"}}},
        {"data": {"name": "lb"}, "mark": {"type": "line", "color": "#00942E", "strokeWidth": 3.4, "strokeJoin": "round", "strokeCap": "round"},
         "encoding": {"x": {"field": "x", "type": "quantitative", "axis": null, "scale": {"domain": [0, 12], "range": [2758, 1574], "nice": false, "zero": false}}, "y": {"field": "z", "type": "quantitative", "axis": null, "scale": {"domain": [0, 12], "range": [562, 1360], "nice": false, "zero": false}}, "order": {"value": null}}}
      ]
    }
  ]
}
